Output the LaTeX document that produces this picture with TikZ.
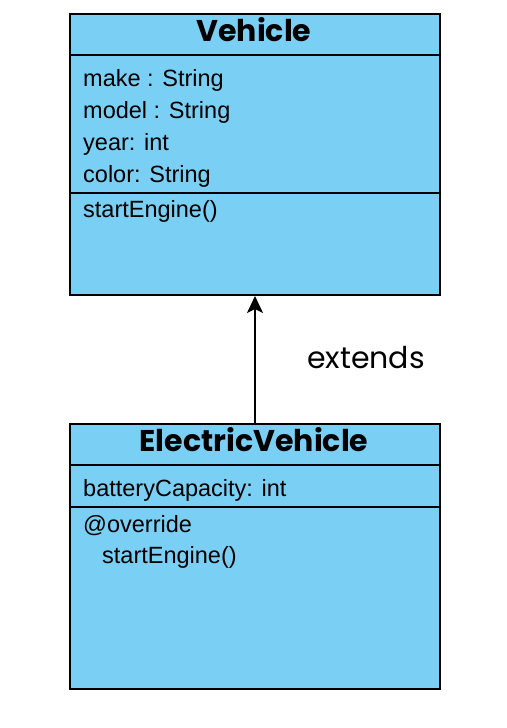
\documentclass[tikz,border=0pt]{standalone}
\usepackage{fontspec}
\setmainfont{Liberation Sans}
\newfontfamily\pop{Poppins}
\usetikzlibrary{arrows.meta}
\definecolor{umlblue}{RGB}{122,207,244}
\tikzset{
  umlbox/.style={draw=black, line width=2pt, fill=umlblue, rectangle, inner sep=0pt, anchor=north west},
  divider/.style={draw=black, line width=2pt},
  title/.style={anchor=base, inner sep=0pt, font=\pop\bfseries\fontsize{30}{34}\selectfont},
  member/.style={anchor=base west, inner sep=0pt, font=\fontsize{23.5}{28}\selectfont},
  lbl/.style={anchor=base west, inner sep=0pt, font=\pop\fontsize{30}{34}\selectfont},
  inherit/.style={draw=black, line width=2pt, -{Stealth[length=17pt, width=16pt, inset=4pt]}}
}
\begin{document}
\begin{tikzpicture}[x=1pt, y=-1pt]
\useasboundingbox (0,0) rectangle (506,728);
\fill[white] (0,0) rectangle (506,728);
% Vehicle
\node[umlbox, minimum width=370pt, minimum height=281pt] (vehicle) at (69,13) {};
\draw[divider] (vehicle.west |- 0,55) -- (vehicle.east |- 0,55);
\draw[divider] (vehicle.west |- 0,193) -- (vehicle.east |- 0,193);
\node[title] (vtitle) at (254,41) {Vehicle};
\node[member] (vmake) at (83,86) {make : String};
\node[member] (vmodel) at (83,118) {model : String};
\node[member] (vyear) at (83,150) {year: int};
\node[member] (vcolor) at (83,182) {color: String};
\node[member] (vstart) at (83,217) {startEngine()};
% ElectricVehicle
\node[umlbox, minimum width=370pt, minimum height=265pt] (ev) at (69,423) {};
\draw[divider] (ev.west |- 0,465) -- (ev.east |- 0,465);
\draw[divider] (ev.west |- 0,507) -- (ev.east |- 0,507);
\node[title] (evtitle) at (254,451) {ElectricVehicle};
\node[member] (evbat) at (83,496) {batteryCapacity: int};
\node[member] (evover) at (83,532) {@override};
\node[member] (evstart) at (102,563) {startEngine()};
% connector
\draw[inherit] (ev.north) -- (vehicle.south);
\node[lbl] (ext) at (307,368) {extends};
\end{tikzpicture}
\end{document}
